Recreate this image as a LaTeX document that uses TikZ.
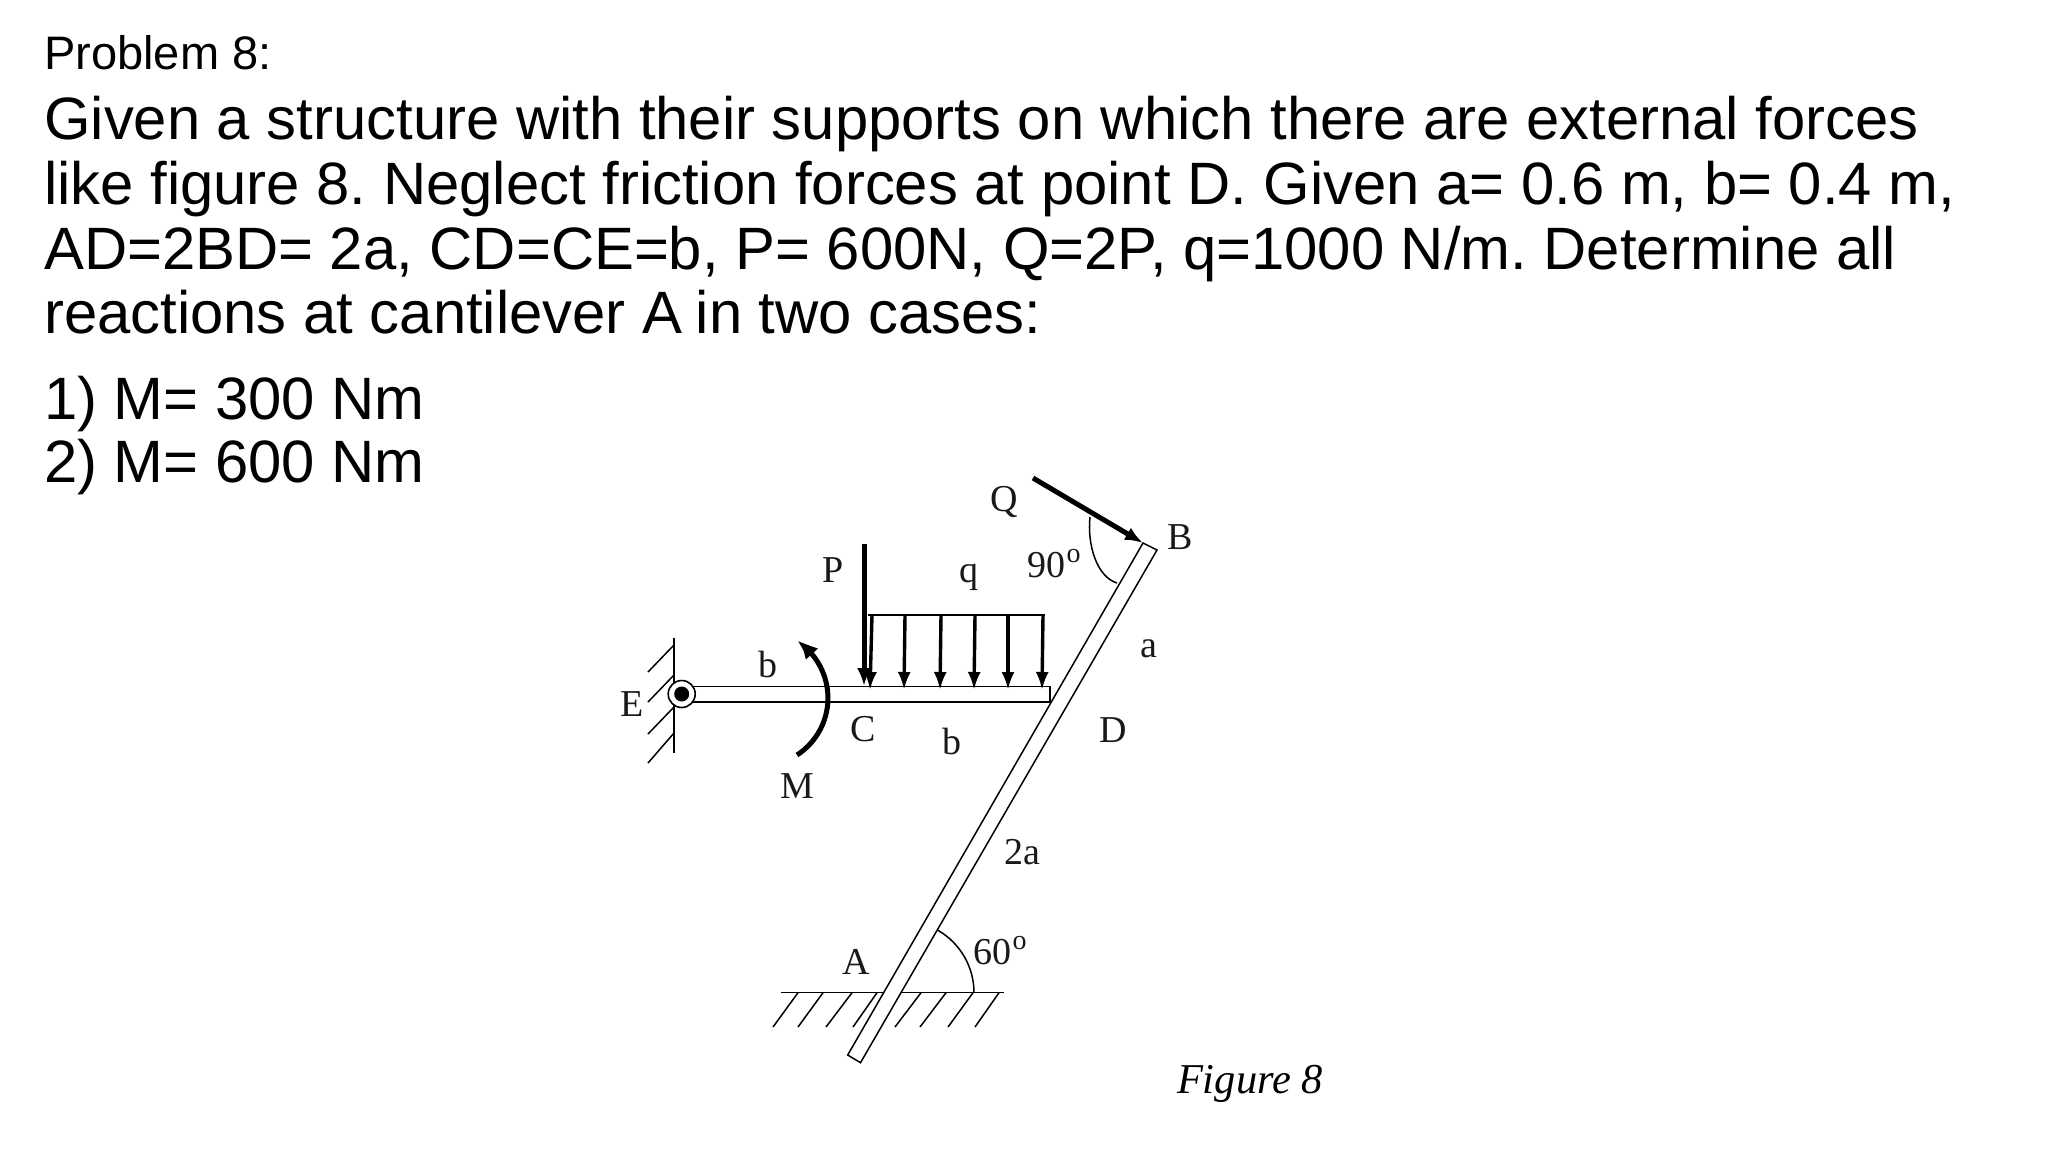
\documentclass[tikz,border=0pt]{standalone}
\usepackage{fontspec}
\setmainfont{Liberation Sans}
\newfontfamily\figfont{Liberation Serif}
\usetikzlibrary{arrows.meta,bending}
\newcommand{\degmark}{\hspace{1pt}\raisebox{15pt}{\fontsize{28}{28}\selectfont o}}
\tikzset{
  x=1pt,y=1pt,
  para/.style={anchor=base west,inner sep=0pt,font=\fontsize{59.8}{65}\selectfont},
  small/.style={anchor=base west,inner sep=0pt,font=\fontsize{47}{50}\selectfont},
  lab/.style={anchor=base,inner sep=0pt,font=\figfont\fontsize{38}{40}\selectfont,text=black!90},
  thin line/.style={line width=1.5pt,black},
  force/.style={line width=5pt,black,-{Latex[length=18pt,width=14pt]}},
  load/.style={line width=3.4pt,black,-{Latex[length=18pt,width=13pt]}},
  hatch/.style={line width=1.5pt,black}
}
\begin{document}
\frenchspacing
\begin{tikzpicture}
\useasboundingbox (0,0) rectangle (2048,-1152);
% heading and statement
\node[small] (title) at (44,-69) {Problem 8:};
\node[para] (l1) at (44,-139) {Given a structure with their supports on which there are external forces};
\node[para] (l2) at (44,-204) {like figure 8. Neglect friction forces at point D. Given a= 0.6 m, b= 0.4 m,};
\node[para] (l3) at (44,-269) {AD=2BD= 2a, CD=CE=b, P= 600N, Q=2P, q=1000 N/m. Determine all};
\node[para] (l4) at (44,-333) {reactions at cantilever A\hspace{-3pt} in two cases:};
\node[para] (c1) at (44,-419) {1) M= 300 Nm};
\node[para] (c2) at (44,-482) {2) M= 600 Nm};
% wall at E
\draw[hatch] (674,-638) -- (674,-753);
\draw[hatch] (674,-645) -- (648,-672);
\draw[hatch] (674,-675) -- (648,-702);
\draw[hatch] (674,-707) -- (648,-734);
\draw[hatch] (674,-733) -- (648,-763);
% ground at A
\draw[hatch] (781,-992.7) -- (1004,-992.7);
\foreach \a/\b in {798/773,823/798,852/826,877/853,921/895,946/920,973/948,999/975}
  \draw[hatch] (\a,-992.7) -- (\b,-1027);
% horizontal beam
\draw[thin line,fill=white] (682,-686.7) -- (1050,-686.7) -- (1050,-702) -- (682,-702);
% inclined bar
\coordinate (bartl) at (1143,-543);
\coordinate (bartr) at (1157,-550);
\coordinate (barbr) at (860.5,-1062.7);
\coordinate (barbl) at (847.7,-1055);
\draw[thin line,fill=white] (bartl) -- (bartr) -- (barbr) -- (barbl) -- cycle;
% hinge E
\node[circle,draw=black,line width=1.6pt,fill=white,minimum size=27pt,inner sep=0pt] (hinge) at (681.7,-694) {};
\node[circle,fill=black,minimum size=15pt,inner sep=0pt] (pin) at (hinge.center) {};
% distributed load
\draw[line width=2.2pt] (868,-615) -- (1045,-615);
\draw[load] (872,-615) -- (870,-690);
\draw[load] (905,-615) -- (904,-690);
\draw[load] (941,-615) -- (940,-690);
\draw[load] (975,-615) -- (974,-690);
\draw[load] (1008,-615) -- (1008,-690);
\draw[load] (1043,-615) -- (1042,-690);
% force P
\coordinate (Ptail) at (864,-544);
\coordinate (Ptip) at (864,-686);
\draw[force] (Ptail) -- (Ptip);
% force Q
\coordinate (Qtail) at (1033,-478);
\draw[force] (Qtail) -- (bartl);
% moment M
\draw[line width=5pt,-{Latex[length=20pt,width=17pt,bend]}] (797,-755) arc[start angle=-57,end angle=57,radius=68];
% angle marks
\draw[thin line] (1090,-517) .. controls (1087,-545) and (1097,-577) .. (1117,-583);
\draw[thin line] (974,-992.7) arc[start angle=0,end angle=60,radius=72];
% labels
\node[lab] (E) at (632,-716) {E};
\node[lab] (b1) at (768,-677) {b};
\node[lab] (P) at (833,-582) {P};
\node[lab] (C) at (863,-741) {C};
\node[lab] (b2) at (952,-754) {b};
\node[lab] (M) at (797,-798) {M};
\node[lab] (q) at (969,-582) {q};
\node[lab] (ang90) at (1054,-577) {90\degmark};
\node[lab] (Q) at (1004,-511) {Q};
\node[lab] (B) at (1180,-549) {B};
\node[lab] (a) at (1149,-657) {a};
\node[lab] (D) at (1113,-742) {D};
\node[lab] (twoa) at (1022,-864) {2a};
\node[lab] (ang60) at (1000,-964) {60\degmark};
\node[lab] (A) at (856,-974) {A};
\node[anchor=base,inner sep=0pt,font=\figfont\itshape\fontsize{42.5}{44}\selectfont,text=black] (fig) at (1250,-1093) {Figure 8};
\end{tikzpicture}
\end{document}
